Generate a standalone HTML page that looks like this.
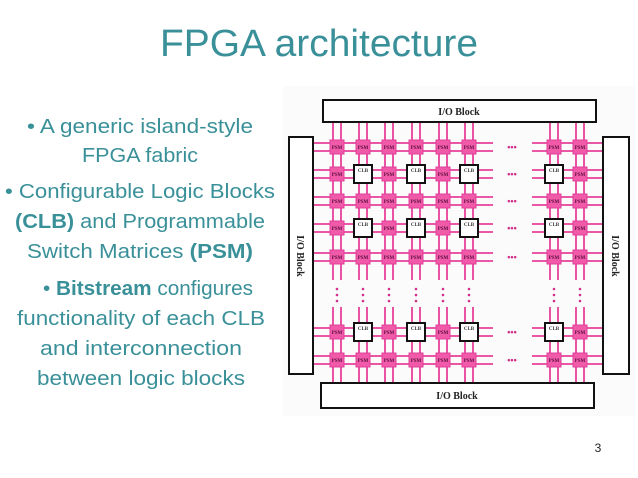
<!DOCTYPE html>
<html><head><meta charset="utf-8"><style>
html,body{margin:0;padding:0;background:#fff;width:638px;height:478px;overflow:hidden}
svg{display:block}
.t{font-family:"Liberation Sans",sans-serif;fill:#3a9099;font-size:20px}
.b{font-weight:bold}
.p{fill:#f05aa8;stroke:#e0409a;stroke-width:1}
.pt{font-family:"Liberation Serif",serif;font-size:5px;font-weight:bold;fill:#5a1040;text-anchor:middle}
.c{fill:#fff;stroke:#111;stroke-width:2}
.ct{font-family:"Liberation Serif",serif;font-size:5px;font-weight:bold;fill:#333;text-anchor:middle}
.io{fill:#fff;stroke:#111;stroke-width:2}
.iot{font-family:"Liberation Serif",serif;font-size:10px;font-weight:bold;fill:#222;text-anchor:middle}
.d{font-family:"Liberation Sans",sans-serif;font-size:9px;font-weight:bold;fill:#d0308a;text-anchor:middle}
</style></head><body>
<svg width="638" height="478" viewBox="0 0 638 478" xmlns="http://www.w3.org/2000/svg">
<text x="319" y="56" text-anchor="middle" font-family="Liberation Sans,sans-serif" font-size="38" fill="#3a9099" textLength="318" lengthAdjust="spacingAndGlyphs">FPGA architecture</text>

<text class="t" x="27" y="133" textLength="226" lengthAdjust="spacingAndGlyphs">• A generic island-style</text>
<text class="t" x="82" y="162" textLength="116" lengthAdjust="spacingAndGlyphs">FPGA fabric</text>
<text class="t" x="5" y="198" textLength="270" lengthAdjust="spacingAndGlyphs">• Configurable Logic Blocks</text>
<text class="t" x="15" y="228" textLength="250" lengthAdjust="spacingAndGlyphs"><tspan class="b">(CLB)</tspan> and Programmable</text>
<text class="t" x="27" y="258" textLength="226" lengthAdjust="spacingAndGlyphs">Switch Matrices <tspan class="b">(PSM)</tspan></text>
<text class="t" x="43" y="295" textLength="210" lengthAdjust="spacingAndGlyphs">• <tspan class="b">Bitstream</tspan> configures</text>
<text class="t" x="17" y="325" textLength="248" lengthAdjust="spacingAndGlyphs">functionality of each CLB</text>
<text class="t" x="40" y="355" textLength="202" lengthAdjust="spacingAndGlyphs">and interconnection</text>
<text class="t" x="37" y="385" textLength="208" lengthAdjust="spacingAndGlyphs">between logic blocks</text>

<text x="598" y="452" font-family="Liberation Sans,sans-serif" font-size="12" fill="#222" text-anchor="middle">3</text>

<rect x="283" y="86" width="352" height="330" fill="#fbfbfb"/>

<path fill="none" stroke="#e8409a" stroke-width="1.8" d="
M333 122V280M333 307V383M341 122V280M341 307V383
M359 122V280M359 307V383M367 122V280M367 307V383
M385 122V280M385 307V383M393 122V280M393 307V383
M412 122V280M412 307V383M420 122V280M420 307V383
M439 122V280M439 307V383M447 122V280M447 307V383
M465 122V280M465 307V383M473 122V280M473 307V383
M550 122V280M550 307V383M558 122V280M558 307V383
M576 122V280M576 307V383M584 122V280M584 307V383
M313 143H493M532 143H602M313 151H493M532 151H602
M313 170H493M532 170H602M313 178H493M532 178H602
M313 197H493M532 197H602M313 205H493M532 205H602
M313 224H493M532 224H602M313 232H493M532 232H602
M313 253H493M532 253H602M313 261H493M532 261H602
M313 328H493M532 328H602M313 336H493M532 336H602
M313 356H493M532 356H602M313 364H493M532 364H602"/>

<g>
<rect class="p" x="330" y="140" width="14" height="14"/><rect class="p" x="356" y="140" width="14" height="14"/><rect class="p" x="382" y="140" width="14" height="14"/><rect class="p" x="409" y="140" width="14" height="14"/><rect class="p" x="436" y="140" width="14" height="14"/><rect class="p" x="462" y="140" width="14" height="14"/><rect class="p" x="547" y="140" width="14" height="14"/><rect class="p" x="573" y="140" width="14" height="14"/>
<rect class="p" x="330" y="194" width="14" height="14"/><rect class="p" x="356" y="194" width="14" height="14"/><rect class="p" x="382" y="194" width="14" height="14"/><rect class="p" x="409" y="194" width="14" height="14"/><rect class="p" x="436" y="194" width="14" height="14"/><rect class="p" x="462" y="194" width="14" height="14"/><rect class="p" x="547" y="194" width="14" height="14"/><rect class="p" x="573" y="194" width="14" height="14"/>
<rect class="p" x="330" y="250" width="14" height="14"/><rect class="p" x="356" y="250" width="14" height="14"/><rect class="p" x="382" y="250" width="14" height="14"/><rect class="p" x="409" y="250" width="14" height="14"/><rect class="p" x="436" y="250" width="14" height="14"/><rect class="p" x="462" y="250" width="14" height="14"/><rect class="p" x="547" y="250" width="14" height="14"/><rect class="p" x="573" y="250" width="14" height="14"/>
<rect class="p" x="330" y="353" width="14" height="14"/><rect class="p" x="356" y="353" width="14" height="14"/><rect class="p" x="382" y="353" width="14" height="14"/><rect class="p" x="409" y="353" width="14" height="14"/><rect class="p" x="436" y="353" width="14" height="14"/><rect class="p" x="462" y="353" width="14" height="14"/><rect class="p" x="547" y="353" width="14" height="14"/><rect class="p" x="573" y="353" width="14" height="14"/>
<rect class="p" x="330" y="167" width="14" height="14"/><rect class="p" x="382" y="167" width="14" height="14"/><rect class="p" x="436" y="167" width="14" height="14"/><rect class="p" x="573" y="167" width="14" height="14"/>
<rect class="p" x="330" y="221" width="14" height="14"/><rect class="p" x="382" y="221" width="14" height="14"/><rect class="p" x="436" y="221" width="14" height="14"/><rect class="p" x="573" y="221" width="14" height="14"/>
<rect class="p" x="330" y="325" width="14" height="14"/><rect class="p" x="382" y="325" width="14" height="14"/><rect class="p" x="436" y="325" width="14" height="14"/><rect class="p" x="573" y="325" width="14" height="14"/>
</g>
<g class="pt">
<text x="337" y="149">PSM</text><text x="363" y="149">PSM</text><text x="389" y="149">PSM</text><text x="416" y="149">PSM</text><text x="443" y="149">PSM</text><text x="469" y="149">PSM</text><text x="554" y="149">PSM</text><text x="580" y="149">PSM</text>
<text x="337" y="203">PSM</text><text x="363" y="203">PSM</text><text x="389" y="203">PSM</text><text x="416" y="203">PSM</text><text x="443" y="203">PSM</text><text x="469" y="203">PSM</text><text x="554" y="203">PSM</text><text x="580" y="203">PSM</text>
<text x="337" y="259">PSM</text><text x="363" y="259">PSM</text><text x="389" y="259">PSM</text><text x="416" y="259">PSM</text><text x="443" y="259">PSM</text><text x="469" y="259">PSM</text><text x="554" y="259">PSM</text><text x="580" y="259">PSM</text>
<text x="337" y="362">PSM</text><text x="363" y="362">PSM</text><text x="389" y="362">PSM</text><text x="416" y="362">PSM</text><text x="443" y="362">PSM</text><text x="469" y="362">PSM</text><text x="554" y="362">PSM</text><text x="580" y="362">PSM</text>
<text x="337" y="176">PSM</text><text x="389" y="176">PSM</text><text x="443" y="176">PSM</text><text x="580" y="176">PSM</text>
<text x="337" y="230">PSM</text><text x="389" y="230">PSM</text><text x="443" y="230">PSM</text><text x="580" y="230">PSM</text>
<text x="337" y="334">PSM</text><text x="389" y="334">PSM</text><text x="443" y="334">PSM</text><text x="580" y="334">PSM</text>
</g>

<g>
<rect class="c" x="354" y="165" width="18" height="18"/><rect class="c" x="407" y="165" width="18" height="18"/><rect class="c" x="460" y="165" width="18" height="18"/><rect class="c" x="545" y="165" width="18" height="18"/>
<rect class="c" x="354" y="219" width="18" height="18"/><rect class="c" x="407" y="219" width="18" height="18"/><rect class="c" x="460" y="219" width="18" height="18"/><rect class="c" x="545" y="219" width="18" height="18"/>
<rect class="c" x="354" y="323" width="18" height="18"/><rect class="c" x="407" y="323" width="18" height="18"/><rect class="c" x="460" y="323" width="18" height="18"/><rect class="c" x="545" y="323" width="18" height="18"/>
</g>
<g class="ct">
<text x="363" y="172">CLB</text><text x="416" y="172">CLB</text><text x="469" y="172">CLB</text><text x="554" y="172">CLB</text>
<text x="363" y="226">CLB</text><text x="416" y="226">CLB</text><text x="469" y="226">CLB</text><text x="554" y="226">CLB</text>
<text x="363" y="330">CLB</text><text x="416" y="330">CLB</text><text x="469" y="330">CLB</text><text x="554" y="330">CLB</text>
</g>

<g class="d">
<text x="512" y="150">•••</text><text x="512" y="177">•••</text><text x="512" y="204">•••</text><text x="512" y="231">•••</text><text x="512" y="260">•••</text><text x="512" y="335">•••</text><text x="512" y="363">•••</text>
</g>
<g fill="#d0308a">
<circle cx="337" cy="289" r="1.3"/><circle cx="337" cy="295" r="1.3"/><circle cx="337" cy="301" r="1.3"/>
<circle cx="363" cy="289" r="1.3"/><circle cx="363" cy="295" r="1.3"/><circle cx="363" cy="301" r="1.3"/>
<circle cx="389" cy="289" r="1.3"/><circle cx="389" cy="295" r="1.3"/><circle cx="389" cy="301" r="1.3"/>
<circle cx="416" cy="289" r="1.3"/><circle cx="416" cy="295" r="1.3"/><circle cx="416" cy="301" r="1.3"/>
<circle cx="443" cy="289" r="1.3"/><circle cx="443" cy="295" r="1.3"/><circle cx="443" cy="301" r="1.3"/>
<circle cx="469" cy="289" r="1.3"/><circle cx="469" cy="295" r="1.3"/><circle cx="469" cy="301" r="1.3"/>
<circle cx="554" cy="289" r="1.3"/><circle cx="554" cy="295" r="1.3"/><circle cx="554" cy="301" r="1.3"/>
<circle cx="580" cy="289" r="1.3"/><circle cx="580" cy="295" r="1.3"/><circle cx="580" cy="301" r="1.3"/>
</g>

<rect class="io" x="323" y="100" width="273" height="22"/>
<text class="iot" x="459" y="115">I/O Block</text>
<rect class="io" x="321" y="383" width="273" height="25"/>
<text class="iot" x="457" y="399">I/O Block</text>
<rect class="io" x="289" y="137" width="24" height="237"/>
<text class="iot" transform="translate(297,256) rotate(90)">I/O Block</text>
<rect class="io" x="603" y="137" width="26" height="237"/>
<text class="iot" transform="translate(612,256) rotate(90)">I/O Block</text>
</svg>
</body></html>
